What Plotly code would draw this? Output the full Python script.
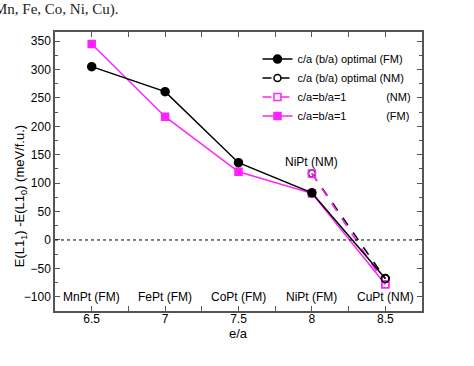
import plotly.graph_objects as go

ea = [6.5, 7.0, 7.5, 8.0, 8.5]
opt_fm = [305, 261, 136, 83, -68]
cub_fm = [345, 217, 120, 82, -78]
nm_x = [8.0, 8.5]
opt_nm = [117, -68]
cub_nm = [117, -78]
compounds = ["MnPt (FM)", "FePt (FM)", "CoPt (FM)", "NiPt (FM)", "CuPt (NM)"]
nm_label = "NiPt (NM)"

BLACK = "#000000"
MAG = "#ff22ff"
font = "Liberation Sans, Arial, sans-serif"
sp = "\u00a0" * 13

fig = go.Figure()
fig.add_trace(go.Scatter(x=nm_x, y=opt_nm, mode="lines+markers",
                         name="c/a (b/a) optimal (NM)",
                         line=dict(color=BLACK, width=1.5, dash="dash"),
                         marker=dict(symbol="circle-open", size=7, color=BLACK, line=dict(width=1.5)),
                         legendrank=2))
fig.add_trace(go.Scatter(x=nm_x, y=cub_nm, mode="lines+markers",
                         name="c/a=b/a=1" + sp + "(NM)",
                         line=dict(color=MAG, width=1.5, dash="dash"),
                         marker=dict(symbol="square-open", size=7, color=MAG, line=dict(width=1.5)),
                         legendrank=3))
fig.add_trace(go.Scatter(x=ea, y=cub_fm, mode="lines+markers",
                         name="c/a=b/a=1" + sp + "(FM)",
                         line=dict(color=MAG, width=1.5),
                         marker=dict(symbol=["square"] * 4 + ["square-open"], size=7, color=MAG,
                                     line=dict(width=1.5, color=MAG)),
                         legendrank=4))
fig.add_trace(go.Scatter(x=ea, y=opt_fm, mode="lines+markers",
                         name="c/a (b/a) optimal (FM)",
                         line=dict(color=BLACK, width=1.5),
                         marker=dict(symbol=["circle"] * 4 + ["circle-open"], size=8, color=BLACK,
                                     line=dict(width=1.5, color=BLACK)),
                         legendrank=1))

fig.add_shape(type="line", xref="paper", x0=0, x1=1, yref="y", y0=0, y1=0,
              line=dict(color=BLACK, width=1, dash="dot"))

for x, t in zip(ea, compounds):
    fig.add_annotation(x=x, y=-100, text=t, showarrow=False,
                       font=dict(family=font, size=12, color="black"))
fig.add_annotation(x=8.0, y=138, text=nm_label, showarrow=False,
                   font=dict(family=font, size=12, color="black"))
fig.add_annotation(x=0.18, y=1.079, xref="paper", yref="paper", xanchor="right", yanchor="middle",
                   text="(Mn, Fe, Co, Ni, Cu).", showarrow=False,
                   font=dict(family="Liberation Serif, serif", size=15, color="#222"))
fig.add_annotation(x=0.5, y=-0.082, xref="paper", yref="paper", xanchor="center", yanchor="middle",
                   text="e/a", showarrow=False,
                   font=dict(family=font, size=13, color="black"))
fig.add_annotation(x=-0.095, y=0.412, xref="paper", yref="paper", xanchor="center", yanchor="middle",
                   text="E(L1<sub>1</sub>) -E(L1<sub>0</sub>) (meV/f.u.)", textangle=-90,
                   showarrow=False, font=dict(family=font, size=13, color="black"))

axis_common = dict(showline=True, linecolor="#555", linewidth=1.5, mirror="allticks",
                   ticks="inside", ticklen=5, tickcolor="#555", showgrid=False, zeroline=False,
                   tickfont=dict(family=font, size=12, color="black"))
fig.update_xaxes(range=[6.25, 8.75], tick0=6.5, dtick=0.5, ticklabelstandoff=-4,
                 minor=dict(dtick=0.25, ticks="inside", ticklen=5, tickcolor="#555"),
                 **axis_common)
fig.update_yaxes(range=[-125, 366], tick0=0, dtick=50,
                 minor=dict(dtick=25, ticks="inside", ticklen=3, tickcolor="#555"),
                 **axis_common)

fig.update_layout(width=474, height=366, margin=dict(l=55, r=52, t=32, b=55),
                  plot_bgcolor="white", paper_bgcolor="white",
                  showlegend=True,
                  legend=dict(x=0.985, y=0.955, xanchor="right", yanchor="top",
                              bgcolor="rgba(0,0,0,0)", font=dict(family=font, size=11, color="black"),
                              tracegroupgap=0, itemwidth=30))
fig.write_html("out.html", config={"displayModeBar": False},
               post_script="document.body.style.margin='0';")
